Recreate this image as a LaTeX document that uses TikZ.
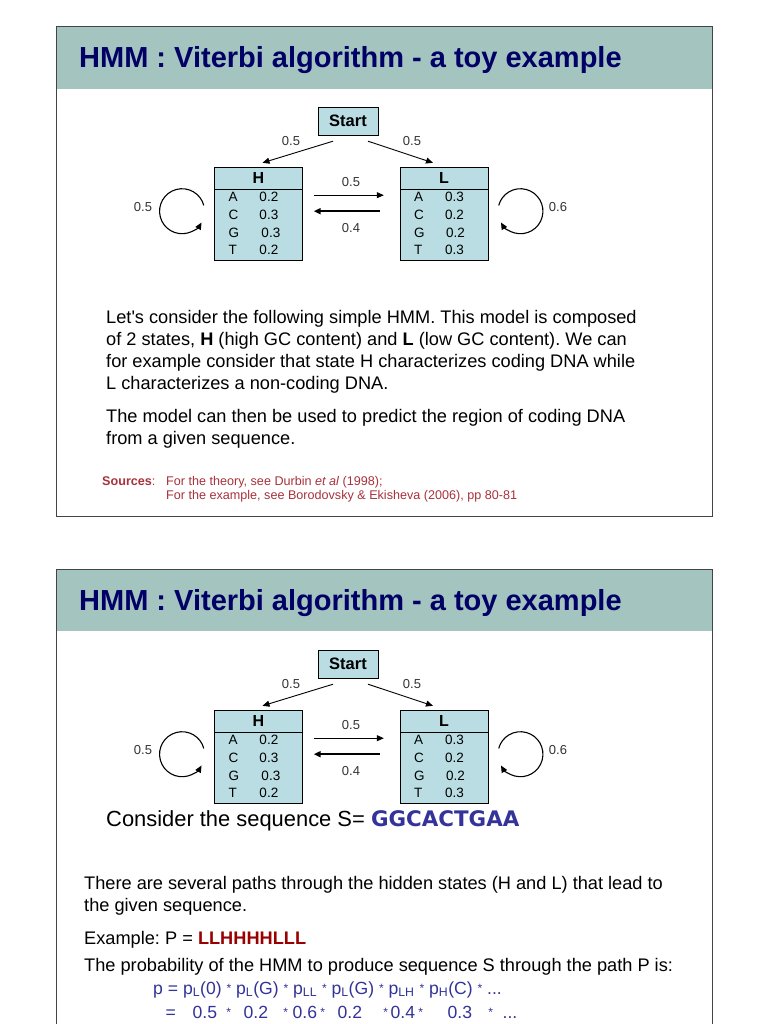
\documentclass[tikz,border=0pt]{standalone}
\usepackage{fontspec}
\setmainfont{Liberation Sans}
\newfontfamily\seqfont{DejaVu Sans}
\newfontfamily\aposfont{Liberation Sans}[Ligatures=TeXOff]
\usetikzlibrary{arrows.meta,positioning,calc}
\frenchspacing
\definecolor{band}{HTML}{A3C4BF}
\definecolor{boxfill}{HTML}{B9DDE2}
\definecolor{navy}{HTML}{000066}
\definecolor{srcred}{HTML}{A8323C}
\definecolor{seqblue}{HTML}{333399}
\definecolor{pathred}{HTML}{990000}
\definecolor{framegrey}{HTML}{444444}
\tikzset{
 slidetitle/.style={anchor=base west, text=navy, font=\bfseries\fontsize{29}{29}\selectfont, inner sep=0},
 bodytext/.style={anchor=base west, font=\fontsize{18.2}{21.7}\selectfont, inner sep=0, align=left},
 lineone/.style={anchor=base west, font=\fontsize{18.2}{21.7}\selectfont, inner sep=0},
 srctext/.style={anchor=base west, text=srcred, font=\fontsize{12.6}{14.5}\selectfont, inner sep=0, align=left},
 prob/.style={font=\fontsize{13}{13}\selectfont, inner sep=0, text=black!80},
 startbox/.style={draw, fill=boxfill, minimum width=60, minimum height=28, font=\bfseries\fontsize{16.5}{16.5}\selectfont, inner sep=0},
 hdrbox/.style={draw, fill=boxfill, minimum width=88, minimum height=22, font=\bfseries\fontsize{16}{16}\selectfont, inner sep=0},
 statebox/.style={draw, fill=boxfill, minimum width=88, minimum height=71, inner sep=0, text width=60, align=left, font=\fontsize{13.5}{17.7}\selectfont},
 trans/.style={-{Triangle[length=7pt,width=6pt]}, line width=0.9pt},
 slideframe/.style={draw=framegrey, line width=0.8pt},
 formula/.style={anchor=base west, inner sep=0, text=seqblue, font=\fontsize{17.6}{20}\selectfont},
}
\newcommand\emis[4]{\begin{tabular}{@{}p{31pt}@{}l@{}}A&#1\\C&#2\\G&#3\\T&#4\end{tabular}}
\newcommand\putat[2]{\makebox[0pt][l]{\hspace{#1pt}#2}}
\newcommand\smstar{\raisebox{1.5pt}{\fontsize{12}{12}\selectfont *}}
\newcommand\hmmdiagram[2]{%
\begin{scope}[shift={(0,#2)}]
 \node[startbox] (#1S) at (348,121) {Start};
 \node[hdrbox] (#1Hh) at (258.5,178) {H};
 \node[statebox, below=0pt of #1Hh] (#1Hb) {\emis{0.2}{0.3}{\hspace{2pt}0.3}{0.2}};
 \node[hdrbox] (#1Lh) at (444,178) {L};
 \node[statebox, below=0pt of #1Lh] (#1Lb) {\emis{0.3}{0.2}{\hspace{1pt}0.2}{0.3}};
 \draw[trans] ($(#1S.south)+(-15,6)$) -- ($(#1Hh.north)+(4,-4)$);
 \draw[trans] ($(#1S.south)+(20,6)$) -- ($(#1Lh.north)+(-11,-4)$);
 \draw[trans, line width=0.8pt] ($(#1Hb.north east)+(11,6)$) -- ($(#1Lb.north west)+(-16,6)$);
 \draw[trans, line width=1.8pt] ($(#1Lb.north west)+(-20,22)$) -- ($(#1Hb.north east)+(11,22)$);
 \coordinate (#1Hloop) at ($(#1Hb.west)+(-10.5,-19.5)$);
 \coordinate (#1Lloop) at ($(#1Lb.east)+(10.5,-19.5)$);
 \draw[trans, line width=1.1pt] (#1Hloop) arc[start angle=-15, end angle=-330, radius=22.5];
 \draw[trans, line width=1.1pt] (#1Lloop) arc[start angle=-165, end angle=150, radius=22.5];
 \node[prob] (#1pSH) at (291,141) {0.5};
 \node[prob] (#1pSL) at (412,141) {0.5};
 \node[prob] (#1pHL) at (351,182) {0.5};
 \node[prob] (#1pLH) at (351,228) {0.4};
 \node[prob] (#1pHH) at (143,207) {0.5};
 \node[prob] (#1pLL) at (558,207) {0.6};
\end{scope}}
\begin{document}
\begin{tikzpicture}[x=1pt,y=-1pt]
\useasboundingbox (0,0) rectangle (768,1024);
\fill[white] (0,0) rectangle (768,1024);
\begin{scope}
\clip (0,0) rectangle (768,1024);
% slide 1
\fill[band] (56,26) rectangle (712,89);
\draw[slideframe] (56,26) rectangle (712,516);
\node[slidetitle] (t1) at (79,68) {HMM : Viterbi algorithm - a toy example};
\hmmdiagram{a}{0}
\node[bodytext] (par1) at (106,389) {Let{\aposfont'}s consider the following simple HMM. This model is composed\\of 2 states, \textbf{H} (high GC content) and \textbf{L} (low GC content). We can\\for example consider that state H characterizes coding DNA while\\L characterizes a non-coding DNA.};
\node[bodytext] (par2) at (106,444) {The model can then be used to predict the region of coding DNA\\from a given sequence.};
\node[srctext] (src) at (102,485) {\textbf{Sources}:};
\node[srctext] (src1) at (166,499.5) {For the theory, see Durbin \textit{et al} (1998);\\For the example, see Borodovsky \& Ekisheva (2006), pp 80-81};
% slide 2
\fill[band] (56,569) rectangle (712,631);
\draw[slideframe] (56,569) rectangle (712,1040);
\node[slidetitle] (t2) at (79,610) {HMM : Viterbi algorithm - a toy example};
\hmmdiagram{b}{543}
\node[anchor=base west, inner sep=0, font=\fontsize{21.9}{24}\selectfont] (cons) at (106,826) {Consider the sequence S= {\seqfont\bfseries\fontsize{21.4}{24}\selectfont\color{seqblue}GGCACTGAA}};
\node[bodytext] (par3) at (84,911) {There are several paths through the hidden states (H and L) that lead to\\the given sequence.};
\node[lineone] (ex) at (84,944) {Example: P = \textcolor{pathred}{\textbf{LLHHHHLLL}}};
\node[lineone] (prb) at (84,971) {The probability of the HMM to produce sequence S through the path P is:};
\node[formula] (f1) at (153,994) {p = p\textsubscript{L}(0) \smstar{} p\textsubscript{L}(G) \smstar{} p\textsubscript{LL} \smstar{} p\textsubscript{L}(G) \smstar{} p\textsubscript{LH} \smstar{} p\textsubscript{H}(C) \smstar{} ...};
\node[formula] (f2) at (163,1018) {\putat{2}{=}\putat{29}{0.5}\putat{62.7}{\smstar}\putat{80}{0.2}\putat{119.7}{\smstar}\putat{129}{0.6}\putat{156.7}{\smstar}\putat{174}{0.2}\putat{219.7}{\smstar}\putat{227}{0.4}\putat{254.7}{\smstar}\putat{284}{0.3}\putat{324.7}{\smstar}\putat{339}{...}};
\end{scope}
\end{tikzpicture}
\end{document}
